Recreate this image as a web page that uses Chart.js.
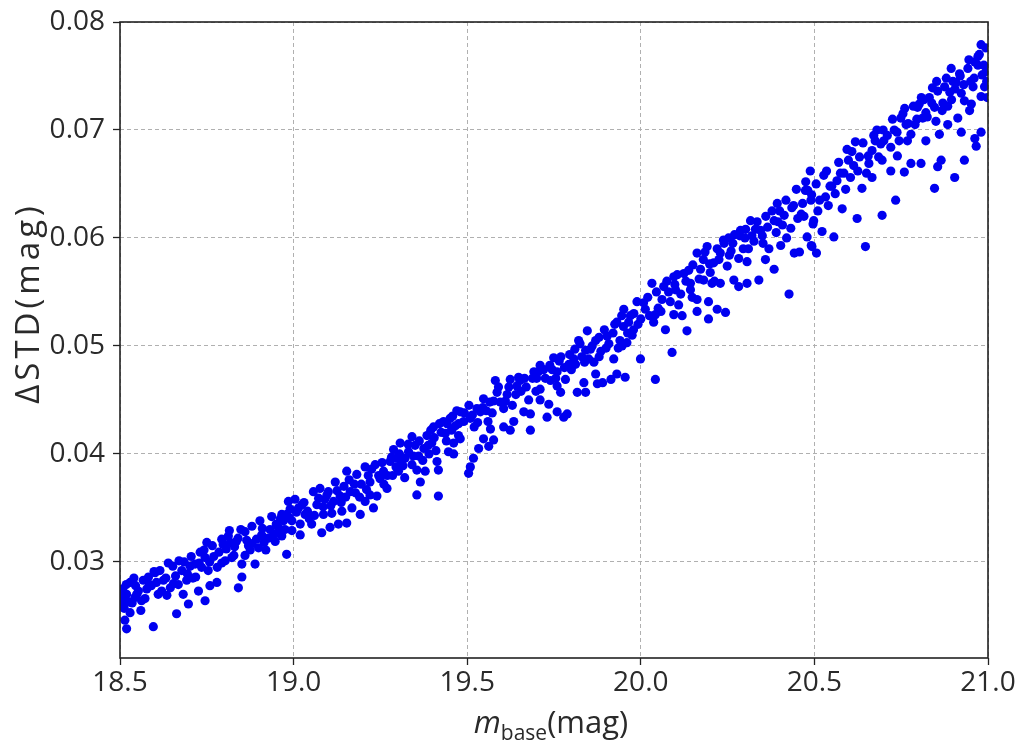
<!DOCTYPE html>
<html>
<head>
<meta charset="utf-8">
<script src="https://cdn.jsdelivr.net/npm/chart.js@4.4.1/dist/chart.umd.min.js"></script>
<style>
  body { margin: 0; background: #fff; }
  #chart { display: block; }
</style>
</head>
<body>
<canvas id="chart" width="1020" height="751"></canvas>
<script>
// ===========================
// Data (m_base in mag, delta STD in mag)
// scattered points, outliers and band edges
const mBase = [
  // 18.5 - 19.0
  18.519, 18.514, 18.512, 18.529, 18.519, 18.529, 18.553, 18.567, 18.577, 18.596,
  18.663, 18.610, 18.635, 18.639, 18.682, 18.692, 18.726, 18.745, 18.759, 18.779,
  18.754, 18.745, 18.716, 18.793, 18.812, 18.803, 18.841, 18.851, 18.860, 18.880,
  18.899, 18.937, 18.966, 18.985, 18.980, 18.927, 18.947, 18.543, 18.582, 18.601,
  18.620, 18.654, 18.678, 18.702, 18.731, 18.750, 18.793, 18.822, 18.817, 18.851,
  18.870, 18.908, 18.889, 18.956, 18.971, 18.514, 18.562, 18.697, 18.505, 18.508,
  18.535, 18.545, 18.560, 18.590, 18.625, 18.660, 18.670, 18.710, 18.735, 18.770,
  18.780, 18.830, 18.840, 18.860, 18.880, 18.910, 18.920, 18.950, 18.960, 18.990,
  18.995,
  // 19.0 - 19.5
  18.966, 18.980, 19.004, 19.019, 19.033, 19.057, 19.052, 19.081, 19.086, 19.105,
  19.100, 19.115, 19.129, 19.153, 19.139, 19.153, 19.163, 19.168, 19.192, 19.206,
  19.220, 19.230, 19.206, 19.240, 19.249, 19.269, 19.278, 19.302, 19.307, 19.288,
  19.321, 19.341, 19.341, 19.355, 19.355, 19.365, 19.379, 19.384, 19.375, 19.403,
  19.413, 19.417, 19.417, 19.437, 19.451, 19.461, 19.470, 19.446, 18.971, 18.995,
  19.014, 19.067, 19.076, 19.120, 19.182, 19.220, 19.259, 19.297, 19.331, 19.398,
  19.432, 19.019, 19.134, 19.030, 19.045, 19.090, 19.110, 19.145, 19.175, 19.190,
  19.215, 19.235, 19.260, 19.285, 19.310, 19.320, 19.350, 19.360, 19.390, 19.395,
  19.420, 19.440, 19.455, 19.475, 19.480,
  // 19.5 - 20.0
  19.504, 19.509, 19.518, 19.533, 19.547, 19.461, 19.456, 19.475, 19.480, 19.509,
  19.528, 19.547, 19.567, 19.576, 19.586, 19.581, 19.605, 19.605, 19.624, 19.634,
  19.624, 19.648, 19.663, 19.682, 19.682, 19.677, 19.692, 19.710, 19.710, 19.710,
  19.730, 19.735, 19.740, 19.749, 19.759, 19.759, 19.769, 19.778, 19.788, 19.783,
  19.793, 19.807, 19.817, 19.821, 19.836, 19.841, 19.841, 19.846, 19.865, 19.870,
  19.875, 19.890, 19.903, 19.914, 19.922, 19.931, 19.931, 19.951, 19.955, 19.960,
  19.562, 19.643, 19.759, 19.538, 19.576, 19.490, 19.520, 19.555, 19.560, 19.595,
  19.615, 19.630, 19.655, 19.665, 19.700, 19.720, 19.745, 19.770, 19.800, 19.810,
  19.830, 19.850, 19.860, 19.880, 19.885, 19.900, 19.920, 19.940, 19.950, 19.970,
  19.975,
  // 20.0 - 20.5
  19.946, 19.965, 19.979, 19.999, 19.989, 20.013, 20.032, 20.042, 20.037, 20.061,
  20.066, 20.071, 20.090, 20.095, 20.095, 20.109, 20.124, 20.119, 20.133, 20.143,
  20.162, 20.162, 20.172, 20.195, 20.195, 20.191, 20.205, 20.210, 20.220, 20.229,
  20.244, 20.249, 20.253, 20.268, 20.282, 20.282, 20.287, 20.306, 20.306, 20.316,
  20.326, 20.340, 20.345, 20.359, 20.369, 20.384, 20.384, 20.393, 20.403, 20.413,
  20.427, 20.432, 20.442, 20.457, 20.452, 20.466, 20.481, 20.491, 20.496, 20.506,
  20.042, 20.143, 20.181, 20.229, 20.162, 20.000, 20.020, 20.050, 20.080, 20.100,
  20.130, 20.150, 20.180, 20.200, 20.220, 20.240, 20.260, 20.270, 20.300, 20.310,
  20.330, 20.350, 20.360, 20.390, 20.400, 20.420, 20.440, 20.470, 20.490,
  // 20.5 - 21.0
  20.479, 20.493, 20.488, 20.474, 20.498, 20.522, 20.527, 20.532, 20.556, 20.560,
  20.565, 20.580, 20.594, 20.604, 20.618, 20.623, 20.613, 20.637, 20.647, 20.657,
  20.666, 20.671, 20.666, 20.695, 20.695, 20.691, 20.720, 20.720, 20.734, 20.739,
  20.744, 20.749, 20.764, 20.759, 20.768, 20.778, 20.778, 20.802, 20.807, 20.812,
  20.821, 20.821, 20.831, 20.846, 20.846, 20.850, 20.855, 20.855, 20.860, 20.865,
  20.875, 20.884, 20.884, 20.894, 20.904, 20.908, 20.913, 20.923, 20.923, 20.932,
  20.942, 20.947, 20.952, 20.957, 20.962, 20.962, 20.966, 20.971, 20.971, 20.980,
  20.983, 20.980, 20.980, 20.994, 20.994, 20.932, 20.840, 20.797, 20.899, 20.510,
  20.540, 20.550, 20.575, 20.590, 20.630, 20.650, 20.680, 20.700, 20.730, 20.760,
  20.790, 20.815, 20.870, 20.890, 20.920, 20.950, 20.990, 20.998,
];

const deltaStd = [
  // 18.5 - 19.0
  0.0238, 0.0246, 0.0257, 0.0253, 0.0270, 0.0281, 0.0273, 0.0283, 0.0275, 0.0240,
  0.0252, 0.0270, 0.0269, 0.0299, 0.0270, 0.0283, 0.0273, 0.0264, 0.0278, 0.0281,
  0.0292, 0.0304, 0.0298, 0.0321, 0.0324, 0.0301, 0.0276, 0.0286, 0.0328, 0.0333,
  0.0313, 0.0342, 0.0344, 0.0356, 0.0307, 0.0322, 0.0319, 0.0267, 0.0286, 0.0290,
  0.0273, 0.0280, 0.0292, 0.0296, 0.0309, 0.0318, 0.0299, 0.0304, 0.0318, 0.0298,
  0.0315, 0.0325, 0.0298, 0.0332, 0.0338, 0.0264, 0.0264, 0.0261, 0.0262, 0.0275,
  0.0262, 0.0278, 0.0255, 0.0278, 0.0283, 0.0287, 0.0301, 0.0285, 0.0295, 0.0305,
  0.0295, 0.0314, 0.0322, 0.0306, 0.0317, 0.0331, 0.0311, 0.0335, 0.0326, 0.0349,
  0.0329,
  // 19.0 - 19.5
  0.0324, 0.0344, 0.0358, 0.0325, 0.0344, 0.0365, 0.0335, 0.0327, 0.0344, 0.0332,
  0.0365, 0.0356, 0.0335, 0.0336, 0.0347, 0.0384, 0.0365, 0.0350, 0.0344, 0.0356,
  0.0374, 0.0350, 0.0388, 0.0361, 0.0377, 0.0368, 0.0393, 0.0384, 0.0410, 0.0404,
  0.0396, 0.0416, 0.0390, 0.0385, 0.0362, 0.0374, 0.0384, 0.0417, 0.0405, 0.0425,
  0.0393, 0.0361, 0.0385, 0.0419, 0.0433, 0.0410, 0.0440, 0.0402, 0.0341, 0.0338,
  0.0350, 0.0353, 0.0368, 0.0374, 0.0381, 0.0362, 0.0384, 0.0396, 0.0402, 0.0410,
  0.0430, 0.0335, 0.0361, 0.0355, 0.0340, 0.0358, 0.0345, 0.0370, 0.0372, 0.0360,
  0.0380, 0.0390, 0.0372, 0.0380, 0.0392, 0.0378, 0.0408, 0.0398, 0.0400, 0.0422,
  0.0428, 0.0412, 0.0422, 0.0428, 0.0414,
  // 19.5 - 20.0
  0.0382, 0.0388, 0.0396, 0.0405, 0.0414, 0.0400, 0.0423, 0.0417, 0.0439, 0.0433,
  0.0442, 0.0451, 0.0423, 0.0413, 0.0457, 0.0468, 0.0442, 0.0425, 0.0422, 0.0430,
  0.0469, 0.0471, 0.0439, 0.0422, 0.0437, 0.0450, 0.0476, 0.0482, 0.0460, 0.0450,
  0.0434, 0.0446, 0.0468, 0.0489, 0.0476, 0.0439, 0.0457, 0.0434, 0.0437, 0.0469,
  0.0483, 0.0488, 0.0457, 0.0505, 0.0466, 0.0496, 0.0457, 0.0514, 0.0485, 0.0474,
  0.0465, 0.0466, 0.0509, 0.0469, 0.0488, 0.0522, 0.0474, 0.0534, 0.0471, 0.0503,
  0.0407, 0.0463, 0.0463, 0.0439, 0.0449, 0.0430, 0.0425, 0.0440, 0.0430, 0.0448,
  0.0455, 0.0445, 0.0458, 0.0470, 0.0470, 0.0478, 0.0478, 0.0490, 0.0478, 0.0497,
  0.0490, 0.0488, 0.0500, 0.0508, 0.0495, 0.0498, 0.0512, 0.0505, 0.0518, 0.0528,
  0.0510,
  // 20.0 - 20.5
  0.0500, 0.0522, 0.0515, 0.0488, 0.0541, 0.0534, 0.0558, 0.0469, 0.0522, 0.0543,
  0.0555, 0.0515, 0.0494, 0.0564, 0.0529, 0.0538, 0.0567, 0.0528, 0.0514, 0.0552,
  0.0532, 0.0586, 0.0571, 0.0525, 0.0541, 0.0592, 0.0558, 0.0577, 0.0534, 0.0586,
  0.0531, 0.0574, 0.0600, 0.0561, 0.0581, 0.0555, 0.0607, 0.0558, 0.0578, 0.0616,
  0.0597, 0.0561, 0.0607, 0.0580, 0.0590, 0.0571, 0.0616, 0.0632, 0.0593, 0.0621,
  0.0548, 0.0609, 0.0586, 0.0587, 0.0618, 0.0632, 0.0644, 0.0593, 0.0613, 0.0586,
  0.0529, 0.0558, 0.0561, 0.0558, 0.0543, 0.0525, 0.0545, 0.0535, 0.0550, 0.0552,
  0.0560, 0.0575, 0.0580, 0.0568, 0.0590, 0.0595, 0.0588, 0.0603, 0.0600, 0.0590,
  0.0608, 0.0602, 0.0620, 0.0605, 0.0625, 0.0600, 0.0630, 0.0620, 0.0635,
  // 20.5 - 21.0
  0.0601, 0.0592, 0.0662, 0.0644, 0.0616, 0.0606, 0.0658, 0.0638, 0.0601, 0.0641,
  0.0653, 0.0627, 0.0682, 0.0656, 0.0689, 0.0618, 0.0667, 0.0646, 0.0592, 0.0669,
  0.0681, 0.0695, 0.0656, 0.0672, 0.0621, 0.0687, 0.0662, 0.0684, 0.0635, 0.0676,
  0.0690, 0.0711, 0.0705, 0.0661, 0.0690, 0.0669, 0.0696, 0.0724, 0.0669, 0.0711,
  0.0690, 0.0716, 0.0730, 0.0646, 0.0721, 0.0708, 0.0666, 0.0736, 0.0696, 0.0672,
  0.0740, 0.0722, 0.0705, 0.0757, 0.0656, 0.0744, 0.0711, 0.0698, 0.0734, 0.0672,
  0.0757, 0.0718, 0.0724, 0.0740, 0.0763, 0.0692, 0.0685, 0.0760, 0.0768, 0.0779,
  0.0751, 0.0731, 0.0698, 0.0754, 0.0776, 0.0727, 0.0739, 0.0721, 0.0745, 0.0625,
  0.0630, 0.0648, 0.0660, 0.0645, 0.0675, 0.0660, 0.0700, 0.0690, 0.0700, 0.0720,
  0.0705, 0.0728, 0.0725, 0.0735, 0.0750, 0.0745, 0.0740, 0.0730,
];

// dense core of the band, one row per 0.1 mag
const mBaseCore = [
  18.503, 18.518, 18.525, 18.540, 18.548, 18.572, 18.585, 18.598,
  18.605, 18.615, 18.632, 18.645, 18.652, 18.668, 18.685, 18.694,
  18.705, 18.718, 18.728, 18.742, 18.758, 18.766, 18.785, 18.797,
  18.806, 18.815, 18.828, 18.835, 18.848, 18.865, 18.875, 18.893,
  18.903, 18.915, 18.932, 18.943, 18.962, 18.975, 18.988,
  19.008, 19.024, 19.040, 19.060, 19.072, 19.085, 19.096,
  19.107, 19.125, 19.137, 19.150, 19.160, 19.178, 19.195,
  19.210, 19.225, 19.245, 19.255, 19.270, 19.282, 19.295,
  19.305, 19.315, 19.330, 19.345, 19.362, 19.372, 19.388,
  19.405, 19.410, 19.425, 19.442, 19.458, 19.466, 19.492,
  19.505, 19.515, 19.530, 19.545, 19.565, 19.572, 19.590,
  19.610, 19.620, 19.640, 19.652, 19.670, 19.688, 19.698,
  19.705, 19.725, 19.738, 19.755, 19.765, 19.780, 19.795,
  19.812, 19.825, 19.838, 19.855, 19.870, 19.880, 19.895,
  19.908, 19.925, 19.935, 19.945, 19.962, 19.980, 19.992,
  20.008, 20.025, 20.045, 20.058, 20.075, 20.085, 20.098,
  20.105, 20.115, 20.138, 20.148, 20.168, 20.185, 20.198,
  20.212, 20.225, 20.238, 20.255, 20.265, 20.285, 20.295,
  20.302, 20.320, 20.335, 20.352, 20.365, 20.378, 20.395,
  20.408, 20.418, 20.435, 20.448, 20.462, 20.475, 20.492,
  20.505, 20.515, 20.535, 20.545, 20.570, 20.585, 20.598,
  20.608, 20.625, 20.640, 20.655, 20.675, 20.685, 20.698,
  20.710, 20.725, 20.738, 20.755, 20.770, 20.785, 20.795,
  20.808, 20.825, 20.838, 20.852, 20.868, 20.880, 20.895,
  20.905, 20.918, 20.930, 20.945, 20.960, 20.975, 20.988, 20.996,
];

const deltaStdCore = [
  0.0268, 0.0279, 0.0263, 0.0285, 0.0270, 0.0266, 0.0279, 0.0291,
  0.0281, 0.0292, 0.0285, 0.0276, 0.0296, 0.0279, 0.0300, 0.0289,
  0.0305, 0.0286, 0.0299, 0.0311, 0.0300, 0.0315, 0.0309, 0.0316,
  0.0312, 0.0329, 0.0306, 0.0319, 0.0330, 0.0320, 0.0311, 0.0321,
  0.0338, 0.0318, 0.0330, 0.0326, 0.0340, 0.0330, 0.0341,
  0.0346, 0.0353, 0.0347, 0.0343, 0.0359, 0.0351, 0.0362,
  0.0352, 0.0366, 0.0355, 0.0360, 0.0376, 0.0364, 0.0372,
  0.0367, 0.0386, 0.0380, 0.0392, 0.0380, 0.0397, 0.0388,
  0.0400, 0.0389, 0.0409, 0.0398, 0.0412, 0.0394, 0.0408,
  0.0415, 0.0403, 0.0420, 0.0428, 0.0435, 0.0426, 0.0438,
  0.0445, 0.0436, 0.0429, 0.0443, 0.0448, 0.0438, 0.0462,
  0.0449, 0.0462, 0.0455, 0.0468, 0.0462, 0.0470, 0.0458,
  0.0476, 0.0470, 0.0482, 0.0470, 0.0486, 0.0480, 0.0492,
  0.0483, 0.0502, 0.0485, 0.0497, 0.0505, 0.0490, 0.0515,
  0.0502, 0.0520, 0.0498, 0.0528, 0.0512, 0.0530, 0.0520,
  0.0540, 0.0528, 0.0550, 0.0532, 0.0560, 0.0541, 0.0557,
  0.0566, 0.0548, 0.0570, 0.0545, 0.0562, 0.0587, 0.0576,
  0.0560, 0.0580, 0.0598, 0.0584, 0.0595, 0.0602, 0.0590,
  0.0608, 0.0602, 0.0615, 0.0595, 0.0610, 0.0625, 0.0615,
  0.0612, 0.0635, 0.0628, 0.0645, 0.0622, 0.0652, 0.0640,
  0.0650, 0.0635, 0.0662, 0.0648, 0.0670, 0.0660, 0.0672,
  0.0680, 0.0662, 0.0688, 0.0676, 0.0690, 0.0675, 0.0700,
  0.0695, 0.0710, 0.0698, 0.0715, 0.0706, 0.0722, 0.0710,
  0.0730, 0.0712, 0.0725, 0.0745, 0.0718, 0.0748, 0.0728,
  0.0738, 0.0752, 0.0742, 0.0765, 0.0748, 0.0770, 0.0760, 0.0745,
];

const xTicks = [18.5, 19.0, 19.5, 20.0, 20.5, 21.0];
const yTicks = [0.03, 0.04, 0.05, 0.06, 0.07, 0.08];

const TEXT = "#2a2a2a";
const FONT = '"Open Sans", "DejaVu Sans", sans-serif';

// ===========================
// Frame + axis titles (m_base has an italic m and a subscript)
const framePlugin = {
  id: "frame",
  afterDraw(chart) {
    const { ctx, chartArea: a } = chart;
    ctx.save();
    ctx.strokeStyle = "#222";
    ctx.lineWidth = 1.6;
    ctx.strokeRect(a.left, a.top, a.right - a.left, a.bottom - a.top);

    ctx.fillStyle = TEXT;
    ctx.textBaseline = "alphabetic";

    // y title
    ctx.save();
    ctx.translate(39, 303);
    ctx.rotate(-Math.PI / 2);
    ctx.font = "33px " + FONT;
    ctx.letterSpacing = "4px";
    ctx.textAlign = "center";
    ctx.fillText("ΔSTD(mag)", 0, 0);
    ctx.restore();

    // x title
    ctx.letterSpacing = "0px";
    ctx.textAlign = "left";
    const parts = [
      { t: "m", font: "italic 31px " + FONT, dy: 0 },
      { t: "base", font: "21px " + FONT, dy: 7 },
      { t: "(mag)", font: "31px " + FONT, dy: 0 },
    ];
    let total = 0;
    parts.forEach(p => { ctx.font = p.font; p.w = ctx.measureText(p.t).width; total += p.w; });
    let x = 551 - total / 2;
    parts.forEach(p => {
      ctx.font = p.font;
      ctx.fillText(p.t, x, 733 + p.dy);
      x += p.w;
    });
    ctx.restore();
  },
};

// ===========================
// Chart setup
const allM = mBase.concat(mBaseCore);
const allD = deltaStd.concat(deltaStdCore);
const points = allM.map((m, i) => ({ x: m, y: allD[i] }));

const gridOpts = {
  color: "#b0b0b0",
  lineWidth: 1,
  tickColor: "#222",
  tickBorderDash: [],
  tickLength: 7,
  tickWidth: 1.3,
};

new Chart(document.getElementById("chart"), {
  type: "scatter",
  plugins: [framePlugin],
  data: {
    datasets: [{
      data: points,
      backgroundColor: "#0000f0",
      borderWidth: 0,
      pointRadius: 4.6,
      pointHoverRadius: 4.6,
      clip: 0,
    }],
  },
  options: {
    responsive: false,
    animation: false,
    devicePixelRatio: 1,
    layout: { padding: { left: 0, top: 15, right: 32, bottom: 0 } },
    plugins: { legend: { display: false }, tooltip: { enabled: false } },
    scales: {
      x: {
        type: "linear",
        min: 18.5,
        max: 21.0,
        afterBuildTicks: s => { s.ticks = xTicks.map(v => ({ value: v })); },
        afterFit: s => { s.height = 93; },
        grid: gridOpts,
        border: { display: false, dash: [4, 3] },
        ticks: {
          color: TEXT,
          padding: 4,
          maxRotation: 0,
          font: { family: FONT, size: 28, lineHeight: 1 },
          callback: v => Number(v).toFixed(1),
        },
      },
      y: {
        type: "linear",
        min: 0.0211,
        max: 0.08,
        afterBuildTicks: s => { s.ticks = yTicks.map(v => ({ value: v })); },
        afterFit: s => { s.width = 120; },
        grid: gridOpts,
        border: { display: false, dash: [4, 3] },
        ticks: {
          color: TEXT,
          padding: 8,
          font: { family: FONT, size: 28, lineHeight: 1 },
          callback: v => Number(v).toFixed(2),
        },
      },
    },
  },
});
</script>
</body>
</html>
